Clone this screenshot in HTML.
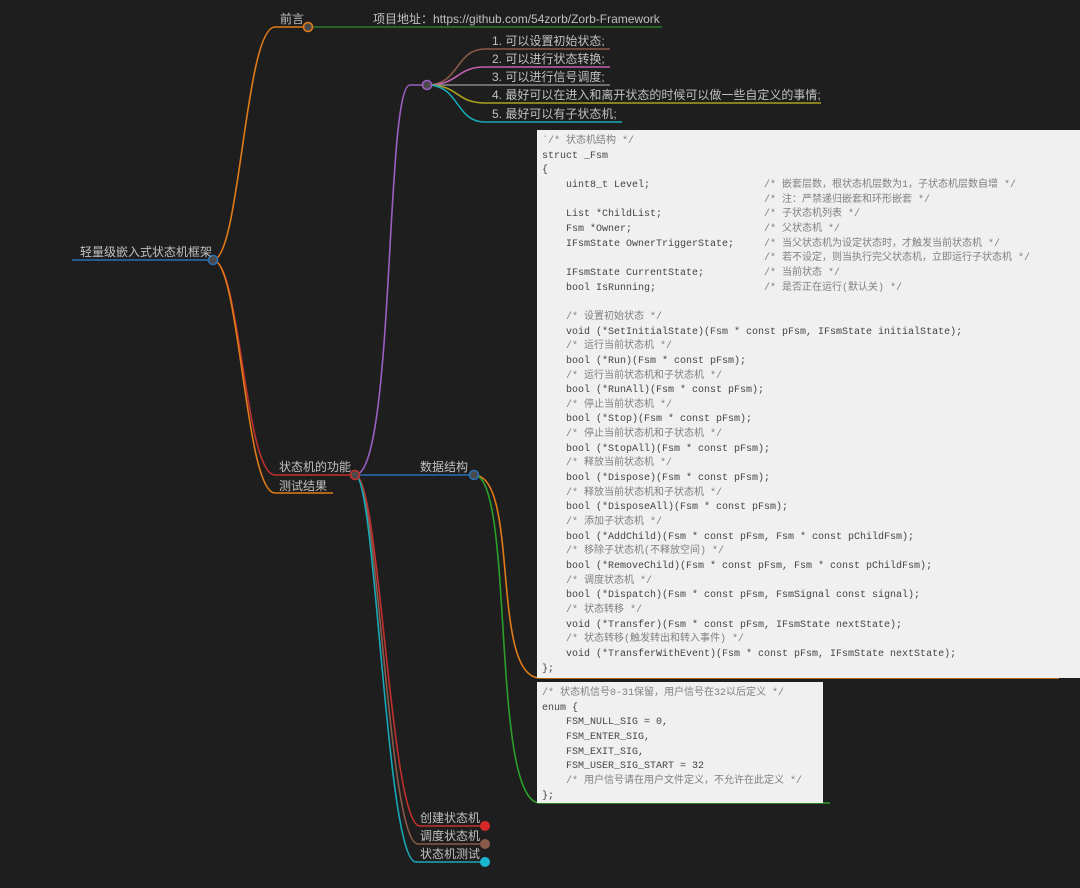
<!DOCTYPE html>
<html><head><meta charset="utf-8"><style>
body{margin:0;width:1080px;height:888px;background:#1e1e1e;position:relative;overflow:hidden;font-family:"Liberation Sans","Noto Sans CJK SC",sans-serif;}
.t{position:absolute;color:#c0c0c0;font-size:12px;white-space:nowrap;line-height:14px;}
pre{position:absolute;margin:0;background:#f0f0f0;font-family:"Liberation Mono","Noto Sans CJK SC",monospace;font-size:10px;line-height:14.65px;color:#444;padding:5px 0 0 5px;box-sizing:border-box;}
pre i{font-style:normal;color:#808080;}
</style></head><body>
<svg width="1080" height="888" style="position:absolute;left:0;top:0" fill="none" stroke-width="1.6">
<path d="M72 260H213" stroke="#2a6fb0"/>
<path d="M213 260C240 260 245 27 275 27H308" stroke="#e07b17"/>
<path d="M308 27H662" stroke="#2a7a2a"/>
<path d="M213 260C240 260 245 475 275 475H355" stroke="#c0302e"/>
<path d="M213 260C240 260 245 493 275 493H333" stroke="#e07b17"/>
<path d="M355 475C395 475 385 85 410 85H427" stroke="#9a5fc0"/>
<path d="M427 85C460 85 455 49 485 49H610" stroke="#8a5a4a"/>
<path d="M427 85C460 85 455 67 485 67H610" stroke="#c060b0"/>
<path d="M427 85H610" stroke="#888"/>
<path d="M427 85C460 85 455 103 485 103H821" stroke="#a8a020"/>
<path d="M427 85C460 85 455 122 485 122H622" stroke="#18a8b8"/>
<path d="M355 475H474" stroke="#2a6fb0"/>
<path d="M474 475C520 475 490 678 540 678H1059" stroke="#e07b17"/>
<path d="M474 475C515 475 490 803 540 803H830" stroke="#2aa02a"/>
<path d="M355 475C380 475 390 826 420 826H485" stroke="#c0302e"/>
<path d="M355 475C378 475 388 844 418 844H485" stroke="#8a5a4a"/>
<path d="M355 475C376 475 386 862 416 862H485" stroke="#18a8b8"/>
<circle cx="213" cy="260" r="4.5" fill="#4a4a4a" stroke="#2a6fb0"/>
<circle cx="308" cy="27" r="4.5" fill="#4a4a4a" stroke="#e07b17"/>
<circle cx="355" cy="475" r="4.5" fill="#4a4a4a" stroke="#c0302e"/>
<circle cx="427" cy="85" r="4.5" fill="#4a4a4a" stroke="#9a5fc0"/>
<circle cx="474" cy="475" r="4.5" fill="#4a4a4a" stroke="#2a6fb0"/>
<circle cx="485" cy="826" r="5" fill="#d82828" stroke="none"/>
<circle cx="485" cy="844" r="5" fill="#8a5a4a" stroke="none"/>
<circle cx="485" cy="862" r="5" fill="#18b8d0" stroke="none"/>
</svg>
<div class="t" style="left:80px;top:245px">轻量级嵌入式状态机框架</div>
<div class="t" style="left:280px;top:12px">前言</div>
<div class="t" style="left:373px;top:12px">项目地址：https://github.com/54zorb/Zorb-Framework</div>
<div class="t" style="left:492px;top:34px">1. 可以设置初始状态;</div>
<div class="t" style="left:492px;top:52px">2. 可以进行状态转换;</div>
<div class="t" style="left:492px;top:70px">3. 可以进行信号调度;</div>
<div class="t" style="left:492px;top:88px">4. 最好可以在进入和离开状态的时候可以做一些自定义的事情;</div>
<div class="t" style="left:492px;top:107px">5. 最好可以有子状态机;</div>
<div class="t" style="left:279px;top:460px">状态机的功能</div>
<div class="t" style="left:279px;top:479px">测试结果</div>
<div class="t" style="left:420px;top:460px">数据结构</div>
<div class="t" style="left:420px;top:811px">创建状态机</div>
<div class="t" style="left:420px;top:829px">调度状态机</div>
<div class="t" style="left:420px;top:847px">状态机测试</div>
<pre style="left:537px;top:130px;width:543px;height:548px"><i>`/* 状态机结构 */</i>
struct _Fsm
{
    uint8_t Level;                   <i>/* 嵌套层数，根状态机层数为1，子状态机层数自增 */</i>
                                     <i>/* 注：严禁递归嵌套和环形嵌套 */</i>
    List *ChildList;                 <i>/* 子状态机列表 */</i>
    Fsm *Owner;                      <i>/* 父状态机 */</i>
    IFsmState OwnerTriggerState;     <i>/* 当父状态机为设定状态时，才触发当前状态机 */</i>
                                     <i>/* 若不设定，则当执行完父状态机，立即运行子状态机 */</i>
    IFsmState CurrentState;          <i>/* 当前状态 */</i>
    bool IsRunning;                  <i>/* 是否正在运行(默认关) */</i>

    <i>/* 设置初始状态 */</i>
    void (*SetInitialState)(Fsm * const pFsm, IFsmState initialState);
    <i>/* 运行当前状态机 */</i>
    bool (*Run)(Fsm * const pFsm);
    <i>/* 运行当前状态机和子状态机 */</i>
    bool (*RunAll)(Fsm * const pFsm);
    <i>/* 停止当前状态机 */</i>
    bool (*Stop)(Fsm * const pFsm);
    <i>/* 停止当前状态机和子状态机 */</i>
    bool (*StopAll)(Fsm * const pFsm);
    <i>/* 释放当前状态机 */</i>
    bool (*Dispose)(Fsm * const pFsm);
    <i>/* 释放当前状态机和子状态机 */</i>
    bool (*DisposeAll)(Fsm * const pFsm);
    <i>/* 添加子状态机 */</i>
    bool (*AddChild)(Fsm * const pFsm, Fsm * const pChildFsm);
    <i>/* 移除子状态机(不释放空间) */</i>
    bool (*RemoveChild)(Fsm * const pFsm, Fsm * const pChildFsm);
    <i>/* 调度状态机 */</i>
    bool (*Dispatch)(Fsm * const pFsm, FsmSignal const signal);
    <i>/* 状态转移 */</i>
    void (*Transfer)(Fsm * const pFsm, IFsmState nextState);
    <i>/* 状态转移(触发转出和转入事件) */</i>
    void (*TransferWithEvent)(Fsm * const pFsm, IFsmState nextState);
};</pre>
<pre style="left:537px;top:682px;width:286px;height:121px"><i>/* 状态机信号0-31保留，用户信号在32以后定义 */</i>
enum {
    FSM_NULL_SIG = 0,
    FSM_ENTER_SIG,
    FSM_EXIT_SIG,
    FSM_USER_SIG_START = 32
    <i>/* 用户信号请在用户文件定义，不允许在此定义 */</i>
};</pre>
</body></html>
